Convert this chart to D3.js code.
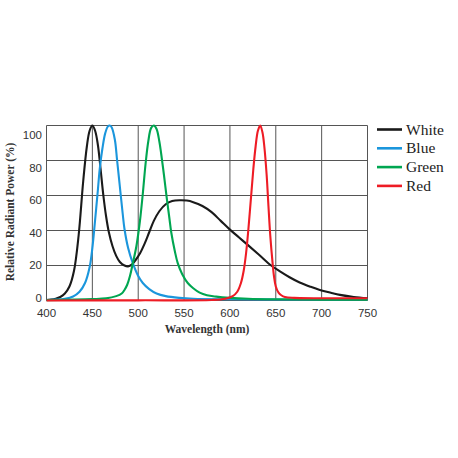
<!DOCTYPE html>
<html>
<head>
<meta charset="utf-8">
<script src="https://cdn.jsdelivr.net/npm/d3@7"></script>
<style>
  body { margin: 0; background: #fff; }
  .tick-label { font-family: "Liberation Sans", Arial, sans-serif; font-size: 11.5px; fill: #333; }
  .axis-title { font-family: "Liberation Serif", "Times New Roman", serif; font-size: 11.5px; font-weight: bold; fill: #333; }
  .legend-text { font-family: "Liberation Serif", "Times New Roman", serif; font-size: 15.5px; fill: #222; }
</style>
</head>
<body>
<svg id="chart" width="458" height="458"></svg>
<script>
// Spectra: [wavelength nm, relative power %]
var white = [[400,0.3],[405,0.5],[410,1],[415,2],[420,4],[425,8],[430,17],[435,37],[440,68],[444,88],[447,97],[450,100],
  [453,97],[456,89],[459,75],[462,60],[465,48],[468,39],[472,31],[476,25.5],[480,22],[485,20],[489,19.5],[493,20.5],
  [497,23],[502,27],[507,32.5],[512,39],[517,45.5],[523,51],[530,55],[537,56.8],[545,57.3],[553,57.1],[560,56.2],
  [570,54],[580,50.5],[590,45.5],[600,40.5],[610,36],[620,31.5],[632,26],[645,20],[655,16.5],[665,13.3],
  [676,10.3],[688,7.8],[698,6],[710,4.4],[720,3.2],[735,2],[750,1.3]];
var blue = [[400,0.3],[410,0.5],[420,1],[429,2.3],[436,5],[442,10],[447,19],[450,30],[453,46],[456,63],[458,75],
  [461,87],[464,95.5],[467,99.5],[469,100],[471,99],[474.5,92],[477,80],[480,65],[483,50],[485,41],[489,30],
  [494,21.5],[500,14],[505,10],[512,6.5],[520,4],[530,2.5],[545,1.5],[560,1],[600,0.7],[650,0.6],[700,0.6],[750,0.8]];
var green = [[400,0.2],[430,0.5],[450,0.8],[465,1.2],[476,2.5],[482,4],[485,6],[488,9],[491,14],[494,21],[498,31],
  [502,46],[505,61],[508,78],[511,91],[514,98.5],[517,100],[520,98],[523,91],[525,84],[528,72],[531,59],[534,47],
  [536,39],[540,28],[543,21.5],[548,15],[554,10],[560,7],[567,4.5],[575,3],[585,2.2],[600,1.5],[620,1],[650,0.7],
  [700,0.5],[750,0.5]];
var red = [[400,0],[500,0.1],[580,0.3],[595,1],[603,2.5],[608,5],[612,10],[615,17],[617.6,27],[620,40],[623,59],
  [625.5,75],[628,88],[630.5,97],[633,100],[635.5,96],[637.5,88],[640,72],[642,54],[644,37],[646.5,21.5],[648,14],
  [650,8],[653,4.5],[656,3],[660,2],[670,1.5],[750,1.3]];

var seriesNames = ["White", "Blue", "Green", "Red"];
var seriesColors = ["#1a1a1a", "#1b96dc", "#00a651", "#ee1c25"];
var seriesData = [white, blue, green, red];

var xTicks = [400, 450, 500, 550, 600, 650, 700, 750];
var yTicks = [0, 20, 40, 60, 80, 100];

var svg = d3.select("#chart");

var x = d3.scaleLinear().domain([400, 750]).range([46.5, 367.5]);
var y = d3.scaleLinear().domain([0, 100]).range([300.5, 125.5]);
// tick labels in the source sit a little off the gridlines
var yLabel = d3.scaleLinear().domain([0, 100]).range([298, 135]);

// Gridlines
svg.append("g").selectAll("line.v").data(xTicks).join("line")
  .attr("x1", d => x(d)).attr("x2", d => x(d))
  .attr("y1", y(0)).attr("y2", y(100))
  .attr("stroke", "#555").attr("stroke-width", 1);
svg.append("g").selectAll("line.h").data(yTicks).join("line")
  .attr("x1", x(400)).attr("x2", x(750))
  .attr("y1", d => y(d)).attr("y2", d => y(d))
  .attr("stroke", "#555").attr("stroke-width", 1);

// Tick labels
svg.append("g").selectAll("text").data(xTicks).join("text")
  .attr("class", "tick-label")
  .attr("x", d => x(d)).attr("y", 317)
  .attr("text-anchor", "middle")
  .text(d => d);
svg.append("g").selectAll("text").data(yTicks).join("text")
  .attr("class", "tick-label")
  .attr("x", 42).attr("y", d => yLabel(d))
  .attr("dy", "0.35em")
  .attr("text-anchor", "end")
  .text(d => d);

// Axis titles
svg.append("text").attr("class", "axis-title")
  .attr("x", 207).attr("y", 333)
  .attr("text-anchor", "middle")
  .text("Wavelength (nm)");
svg.append("text").attr("class", "axis-title")
  .attr("transform", "translate(14,212) rotate(-90)")
  .attr("text-anchor", "middle")
  .text("Relative Radiant Power (%)");

// Curves
var line = d3.line()
  .x(d => x(d[0]))
  .y(d => y(d[1]))
  .curve(d3.curveCatmullRom.alpha(0.5));

svg.append("g").selectAll("path").data(seriesData).join("path")
  .attr("d", line)
  .attr("fill", "none")
  .attr("stroke", (d, i) => seriesColors[i])
  .attr("stroke-width", 2.1)
  .attr("stroke-linejoin", "round");

// Legend
var legend = svg.append("g").selectAll("g").data(seriesNames).join("g")
  .attr("transform", (d, i) => "translate(377," + (129.5 + i * 18.8) + ")");
legend.append("line")
  .attr("x1", 0).attr("x2", 25)
  .attr("stroke", (d, i) => seriesColors[i])
  .attr("stroke-width", 2.6);
legend.append("text")
  .attr("class", "legend-text")
  .attr("x", 29).attr("dy", "0.33em")
  .text(d => d);
</script>
</body>
</html>
